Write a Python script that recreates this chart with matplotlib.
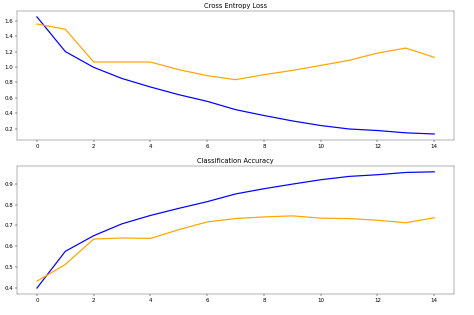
import matplotlib
matplotlib.use("Agg")
import matplotlib.pyplot as plt

epochs = list(range(15))

train_loss = [1.65, 1.20, 0.995, 0.85, 0.74, 0.64, 0.554, 0.446, 0.37, 0.30,
              0.24, 0.195, 0.175, 0.145, 0.13]
val_loss = [1.557, 1.49, 1.064, 1.064, 1.064, 0.965, 0.887, 0.835, 0.90, 0.955,
            1.02, 1.086, 1.18, 1.245, 1.125]

train_acc = [0.40, 0.576, 0.651, 0.708, 0.748, 0.782, 0.814, 0.851, 0.876, 0.898,
             0.919, 0.935, 0.943, 0.954, 0.957]
val_acc = [0.433, 0.513, 0.635, 0.640, 0.638, 0.68, 0.717, 0.733, 0.741, 0.746,
           0.735, 0.733, 0.725, 0.713, 0.737]

fig = plt.figure(figsize=(12, 7.975), dpi=39.5)

# axes placed by hand to match the reference margins
ax0 = fig.add_axes([0.036, 0.556, 0.922, 0.409])
ax0.set_title("Cross Entropy Loss")
ax0.plot(epochs, train_loss, color="blue", linewidth=2.2, label="train")
ax0.plot(epochs, val_loss, color="orange", linewidth=2.2, label="test")

ax1 = fig.add_axes([0.036, 0.067, 0.922, 0.406])
ax1.set_title("Classification Accuracy")
ax1.plot(epochs, train_acc, color="blue", linewidth=2.2, label="train")
ax1.plot(epochs, val_acc, color="orange", linewidth=2.2, label="test")

for ax in (ax0, ax1):
    for spine in ax.spines.values():
        spine.set_edgecolor("#555555")

fig.savefig("out.png", dpi=39.5)
